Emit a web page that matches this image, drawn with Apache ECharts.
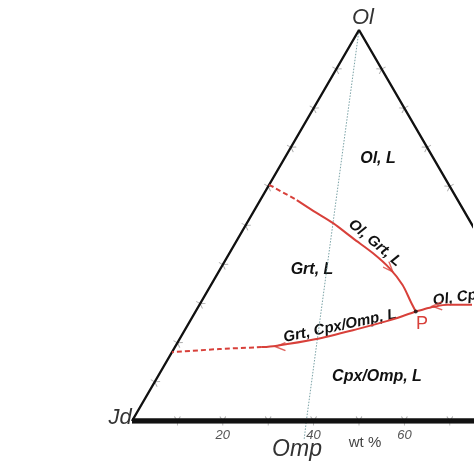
<!DOCTYPE html>
<html>
<head>
<meta charset="utf-8">
<script src="https://cdn.jsdelivr.net/npm/echarts@6/dist/echarts.min.js"></script>
<style>html,body{margin:0;padding:0;background:#fff}#c{width:474px;height:474px}</style>
</head>
<body>
<div id="c"></div>
<script>
// Coordinates: x = position along Jd -> right corner (wt %), y = Ol wt %
const corners = [[0, 0], [50, 100], [100, 0]];          // Jd, Ol, right corner
const ompPoint = [[50, 100], [38.4, 0], [37.9, -4.9]];   // Ol -> Omp join line
const tickPercents = [10, 20, 30, 40, 50, 60, 70, 80, 90];
const baseLabels = [20, 40, 60];
const visibleBaseMax = 74.67;  // part of the Jd -> corner axis inside the picture

const olGrtDashed = [[30.2, 60.4], [36.3, 56.5]];
const olGrtSolid = [[36.3, 56.5], [40.0, 53.7], [44.3, 50.6], [48.7, 46.7], [53.1, 42.9], [56.7, 39.1], [59.6, 34.8], [61.4, 30.5], [62.5, 28.0]];
const grtCpxSolid = [[62.5, 28.0], [59.8, 26.9], [56.3, 25.6], [49.6, 23.5], [40.3, 20.9], [31.6, 19.2], [28.6, 18.9]];
const grtCpxDashed = [[28.6, 18.9], [19.2, 18.4], [8.8, 17.6]];
const olCpx = [[82.0, 29.8], [74.7, 29.7], [69.4, 29.7], [66.5, 29.2], [64.3, 28.6], [62.5, 28.0]];
const pointP = [62.5, 28.0];
const arrowPts = [[56.7, 39.1], [32.7, 19.0], [67.2, 29.4]];
const arrowRot = [133, 0, 2];

const RED = '#d8403a';
const FONT = '"Liberation Sans", Arial, sans-serif';

const tickBase = tickPercents.map(p => [p, 0]);
const tickLeft = tickPercents.map(p => [p / 2, p]);
const tickRight = tickPercents.map(p => [100 - p / 2, p]);
const tickPath = 'path://M0,0 L4,6 L8,0 M4,6 L4,12';

function tickSeries(data, rot) {
  return {
    type: 'scatter', data: data, symbol: tickPath, symbolSize: [6, 9], symbolRotate: rot,
    itemStyle: { color: 'transparent', borderColor: '#9a9a9a', borderWidth: 1 },
    silent: true, z: 1
  };
}
function redLine(data, dashed) {
  return {
    type: 'line', data: data, smooth: 0.3, symbol: 'none', silent: true, z: 3,
    lineStyle: { color: RED, width: 2, type: dashed ? [5, 3] : 'solid' }
  };
}

const chart = echarts.init(document.getElementById('c'), null, { renderer: 'canvas' });
chart.setOption({
  animation: false,
  backgroundColor: '#fff',
  grid: { left: 132, top: 30, right: 0, bottom: 53, containLabel: false },
  xAxis: {
    type: 'value', min: 0, max: visibleBaseMax, interval: 20,
    axisLine: { show: false }, axisTick: { show: false }, splitLine: { show: false },
    axisLabel: {
      margin: 8, fontSize: 13, fontStyle: 'italic', color: '#555', fontFamily: FONT,
      formatter: v => baseLabels.includes(v) ? String(v) : ''
    }
  },
  yAxis: { type: 'value', min: 0, max: 100, show: false, splitLine: { show: false } },
  series: [
    {
      type: 'line', data: ompPoint, symbol: 'none', clip: false, silent: true, z: 1,
      lineStyle: { color: '#7aa2a6', width: 1, type: [1.5, 1.5] }
    },
    tickSeries(tickBase, 0),
    tickSeries(tickLeft, -120),
    tickSeries(tickRight, 120),
    {
      type: 'line', data: corners, symbol: 'none', silent: true, z: 2,
      lineStyle: { color: '#111', width: 2.4 }
    },
    {
      type: 'line', data: [corners[0], corners[2]], symbol: 'none', silent: true, z: 2,
      lineStyle: { color: '#111', width: 5.5 }
    },
    redLine(olGrtDashed, true),
    redLine(olGrtSolid, false),
    redLine(grtCpxSolid, false),
    redLine(grtCpxDashed, true),
    redLine(olCpx, false),
    {
      type: 'scatter', silent: true, z: 4,
      data: arrowPts.map((p, i) => ({ value: p, symbolRotate: arrowRot[i] })),
      symbol: 'path://M10,0 L0,5 L10,10', symbolSize: [10, 8],
      itemStyle: { color: 'transparent', borderColor: RED, borderWidth: 1.5 }
    },
    {
      type: 'scatter', data: [pointP], symbol: 'circle', symbolSize: 4, silent: true, z: 5,
      itemStyle: { color: '#111' }
    }
  ],
  graphic: [
    { type: 'text', x: 363, y: 18, style: { text: 'Ol', font: 'italic 22px ' + FONT, fill: '#333', textAlign: 'center', textVerticalAlign: 'middle' } },
    { type: 'text', x: 120, y: 418, style: { text: 'Jd', font: 'italic 22px ' + FONT, fill: '#333', textAlign: 'center', textVerticalAlign: 'middle' } },
    { type: 'text', x: 297, y: 450, style: { text: 'Omp', font: 'italic 23px ' + FONT, fill: '#333', textAlign: 'center', textVerticalAlign: 'middle' } },
    { type: 'text', x: 365, y: 443, style: { text: 'wt %', font: '15px ' + FONT, fill: '#444', textAlign: 'center', textVerticalAlign: 'middle' } },
    { type: 'text', x: 378, y: 159, style: { text: 'Ol, L', font: 'italic bold 16px ' + FONT, fill: '#111', textAlign: 'center', textVerticalAlign: 'middle' } },
    { type: 'text', x: 312, y: 270, style: { text: 'Grt, L', font: 'italic bold 16px ' + FONT, fill: '#111', textAlign: 'center', textVerticalAlign: 'middle' } },
    { type: 'text', x: 377, y: 377, style: { text: 'Cpx/Omp, L', font: 'italic bold 16px ' + FONT, fill: '#111', textAlign: 'center', textVerticalAlign: 'middle' } },
    { type: 'text', x: 375, y: 243, rotation: -0.70, style: { text: 'Ol, Grt, L', font: 'italic bold 15px ' + FONT, fill: '#111', textAlign: 'center', textVerticalAlign: 'middle' } },
    { type: 'text', x: 340, y: 326, rotation: 0.21, style: { text: 'Grt, Cpx/Omp, L', font: 'italic bold 15px ' + FONT, fill: '#111', textAlign: 'center', textVerticalAlign: 'middle' } },
    { type: 'text', x: 433, y: 301, rotation: 0.14, style: { text: 'Ol, Cpx/Omp, L', font: 'italic bold 15px ' + FONT, fill: '#111', textAlign: 'left', textVerticalAlign: 'middle' } },
    { type: 'text', x: 422, y: 324, style: { text: 'P', font: '18px ' + FONT, fill: RED, textAlign: 'center', textVerticalAlign: 'middle' } }
  ]
});
</script>
</body>
</html>
